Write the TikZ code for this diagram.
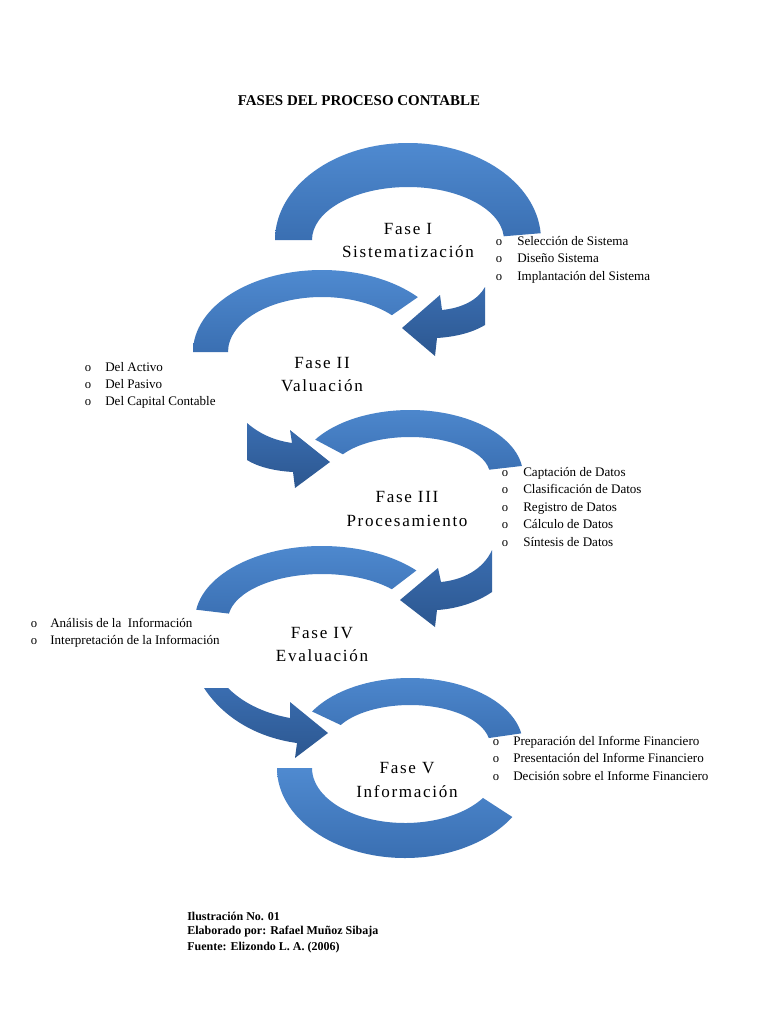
\documentclass[tikz,border=0pt]{standalone}
\usepackage{fontspec}
\usetikzlibrary{calc}
\setmainfont{Liberation Serif}
\newfontfamily\phasefont[LetterSpace=10]{Liberation Serif}
\begin{document}
\begin{tikzpicture}[x=0.75pt,y=-0.75pt,
  lightb/.style={top color=lb1,bottom color=lb2,draw=none},
  darkb/.style={top color=db1,bottom color=db2,draw=none},
  ph/.style={font=\phasefont\fontsize{12.8}{14}\selectfont,inner sep=0pt},
  it/.style={font=\fontsize{9.8}{11}\selectfont,anchor=base west,inner sep=0pt},
  bul/.style={font=\fontsize{9.5}{11}\selectfont,anchor=base,inner sep=0pt},
  ft/.style={font=\bfseries\fontsize{9}{10}\selectfont,anchor=west,inner sep=0pt}]
\definecolor{lb1}{HTML}{4F8AD0}
\definecolor{lb2}{HTML}{3A6FB2}
\definecolor{db1}{HTML}{3A6DB0}
\definecolor{db2}{HTML}{2C5790}
\useasboundingbox (0,0) rectangle (768,1024);
\fill[white] (0,0) rectangle (768,1024);
% Phase I top arc
\path[lightb] (408,240) ++(180:133 and 97) arc[start angle=180,end angle=356,x radius=133,y radius=97]
  -- ($(408,240)+(356:96 and 53)$) arc[start angle=356,end angle=180,x radius=96,y radius=53] -- cycle;
% Arrow I
\path[darkb] (485,287) -- (485,325) .. controls (470,334) and (452,337) .. (437,338) -- (435,356) -- (402,328) -- (440,295) -- (442,310) .. controls (462,308) and (478,300) .. (485,287) -- cycle;
% Phase II top arc
\path[lightb] (322,352) ++(180:129 and 82) arc[start angle=180,end angle=318,x radius=129,y radius=82]
  -- ($(322,352)+(318:94 and 55)$) arc[start angle=318,end angle=180,x radius=94,y radius=55] -- cycle;
% Arrow II
\path[darkb] (247,423) .. controls (262,436) and (278,441) .. (292,443) -- (290,430) -- (330,462) -- (295,488) -- (293,472) .. controls (275,471) and (258,467) .. (247,460) -- cycle;
% Phase III top arc
\path[lightb] (410,475) ++(213:113 and 65) arc[start angle=213,end angle=352,x radius=113,y radius=65]
  -- ($(410,475)+(352:80 and 38)$) arc[start angle=352,end angle=213,x radius=80,y radius=38] -- cycle;
% Arrow III
\path[darkb] (492,550) -- (492,592) .. controls (476,603) and (455,609) .. (437,610) -- (435,627) -- (400,600) -- (438,568) -- (441,582) .. controls (462,580) and (483,570) .. (492,550) -- cycle;
% Phase IV top arc
\path[lightb] (322,620) ++(188:127 and 74) arc[start angle=188,end angle=318,x radius=127,y radius=74]
  -- ($(322,620)+(318:94 and 46)$) arc[start angle=318,end angle=188,x radius=94,y radius=46] -- cycle;
% Arrow IV
\path[darkb] (204,688) -- (228,688) .. controls (245,705) and (268,714) .. (290,718) -- (290,702) -- (328,733) -- (295,758) -- (297,743) .. controls (260,738) and (225,720) .. (204,688) -- cycle;
% Phase V top arc
\path[lightb] (410,745) ++(210:113 and 67) arc[start angle=210,end angle=350,x radius=113,y radius=67]
  -- ($(410,745)+(350:80 and 40)$) arc[start angle=350,end angle=210,x radius=80,y radius=40] -- cycle;
% Phase V bottom arc
\path[lightb] (405,768) ++(180:128 and 90) arc[start angle=180,end angle=33,x radius=128,y radius=90]
  -- ($(405,768)+(33:93 and 55)$) arc[start angle=33,end angle=180,x radius=93,y radius=55] -- cycle;

% Title
\node[font=\bfseries\fontsize{11.2}{13}\selectfont,inner sep=0pt] (title) at (359,101) {FASES DEL PROCESO CONTABLE};
% Phase labels
\node[ph] (f1) at (408,229) {Fase I};
\node[ph] (s1) at (408,252) {Sistematización};
\node[ph] (f2) at (322,363) {Fase II};
\node[ph] (s2) at (322,386) {Valuación};
\node[ph] (f3) at (407,497) {Fase III};
\node[ph] (s3) at (407,521) {Procesamiento};
\node[ph] (f4) at (322,633) {Fase IV};
\node[ph] (s4) at (322,656) {Evaluación};
\node[ph] (f5) at (407,768) {Fase V};
\node[ph] (s5) at (407,792) {Información};
% Lists (y = baseline)
\foreach \y/\t [count=\i] in {245/Selección de Sistema,262/Diseño Sistema,280/Implantación del Sistema}{
  \node[bul] (b1\i) at (499,\y) {o}; \node[it] (t1\i) at (517,\y) {\t};}
\foreach \y/\t [count=\i] in {371/Del Activo,388/Del Pasivo,405/Del Capital Contable}{
  \node[bul] (b2\i) at (88,\y) {o}; \node[it] (t2\i) at (105,\y) {\t};}
\foreach \y/\t [count=\i] in {476/Captación de Datos,493/Clasificación de Datos,511/Registro de Datos,528/Cálculo de Datos,546/Síntesis de Datos}{
  \node[bul] (b3\i) at (505,\y) {o}; \node[it] (t3\i) at (523,\y) {\t};}
\foreach \y/\t [count=\i] in {627/Análisis de la\ \ Información,644/Interpretación de la Información}{
  \node[bul] (b4\i) at (34,\y) {o}; \node[it] (t4\i) at (50,\y) {\t};}
\foreach \y/\t [count=\i] in {745/Preparación del Informe Financiero,762/Presentación del Informe Financiero,780/Decisión sobre el Informe Financiero}{
  \node[bul] (b5\i) at (496,\y) {o}; \node[it] (t5\i) at (513,\y) {\t};}
% Footer
\node[ft] (ft1) at (187,916) {Ilustración No. 01};
\node[ft] (ft2) at (187,932) {Elaborado por: Rafael Muñoz Sibaja};
\node[ft] (ft3) at (187,948) {Fuente: Elizondo L. A. (2006)};
\end{tikzpicture}
\end{document}
